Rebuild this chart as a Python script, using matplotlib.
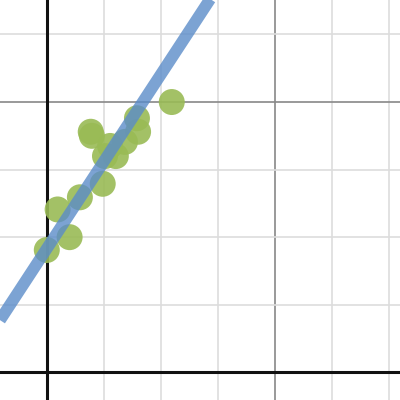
import matplotlib
matplotlib.use("Agg")
import matplotlib.pyplot as plt
import numpy as np

xs = [0.0, 0.19, 0.40, 0.58, 0.77, 0.79, 0.98, 1.02, 1.11, 1.21, 1.37, 1.58, 1.60, 2.19]
ys = [1.81, 2.41, 2.00, 2.59, 3.56, 3.50, 2.79, 3.20, 3.35, 3.20, 3.41, 3.76, 3.56, 4.00]
slope = 1.29
intercept = 1.83

fig = plt.figure(figsize=(4, 4), dpi=100)
ax = fig.add_axes([0, 0, 1, 1])
xmin, xmax = -0.82, 6.19
ymin, ymax = -0.41, 5.51
ax.set_xlim(xmin, xmax)
ax.set_ylim(ymin, ymax)

for v in range(-1, 7):
    major = v % 4 == 0
    ax.axvline(v, color='#888888' if major else '#dddddd', lw=1.2, zorder=0)
for v in range(-1, 6):
    major = v % 4 == 0
    ax.axhline(v, color='#888888' if major else '#dddddd', lw=1.2, zorder=0)
ax.axvline(0, color='#111111', lw=2.2, zorder=1)
ax.axhline(0, color='#111111', lw=2.2, zorder=1)

lx = np.array([xmin, xmax])
ax.plot(lx, slope * lx + intercept, color='#5b8cc9', lw=8.5, alpha=0.8,
        solid_capstyle='butt', zorder=3)
ax.scatter(xs, ys, s=350, color='#99bb55', alpha=0.9, edgecolors='none', zorder=2)

ax.set_xticks([])
ax.set_yticks([])
for s in ax.spines.values():
    s.set_visible(False)
fig.savefig("out.png")
